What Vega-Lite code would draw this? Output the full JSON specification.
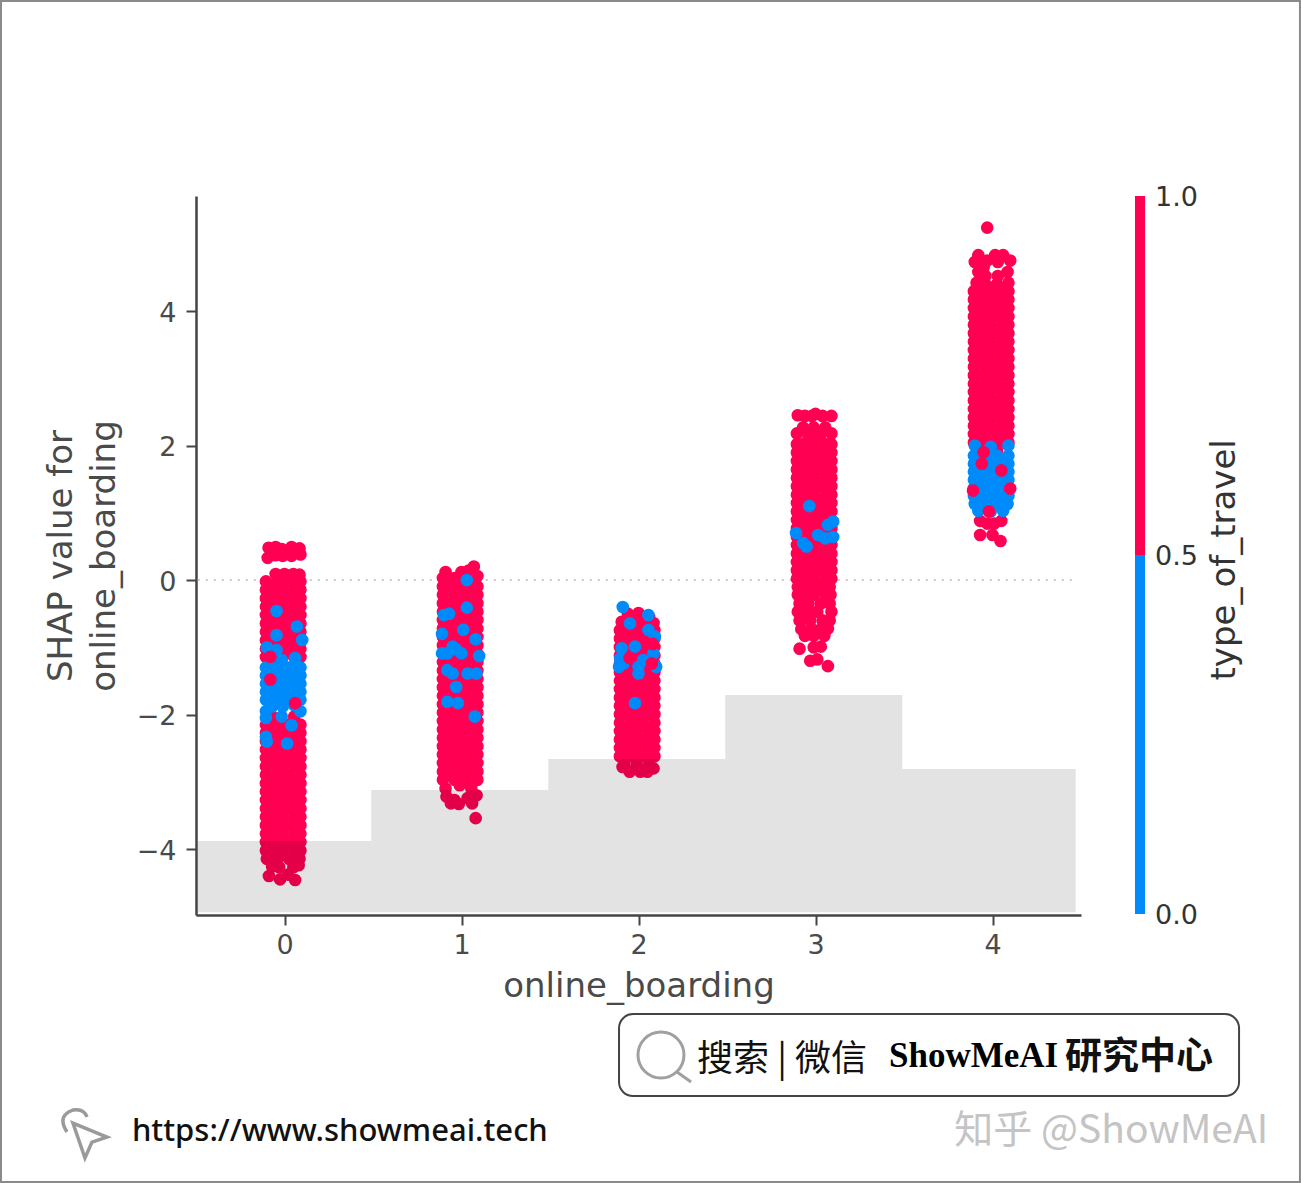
{"$schema":"https://vega.github.io/schema/vega-lite/v6.json","width":885,"height":719,"autosize":"none","padding":{"left":196,"top":196,"right":220,"bottom":268},"background":"white","config":{"view":{"stroke":null},"font":"DejaVu Sans"},
"data":{"values":[{}]},
"datasets":{"hist":[{"a":-0.49,"b":0.49,"top":-3.88},{"a":0.49,"b":1.49,"top":-3.12},{"a":1.49,"b":2.49,"top":-2.66},{"a":2.49,"b":3.49,"top":-1.71},{"a":3.49,"b":4.47,"top":-2.81}],
"edge":[
{"x":-0.105,"y":-0.145,"c":1},{"x":0.09,"y":-0.145,"c":1},{"x":-0.105,"y":-0.395,"c":1},{"x":0.09,"y":-0.395,"c":1},{"x":-0.105,"y":-0.645,"c":1},{"x":0.09,"y":-0.645,"c":1},{"x":-0.105,"y":-0.895,"c":1},{"x":0.09,"y":-0.895,"c":1},{"x":-0.105,"y":-1.145,"c":1},{"x":0.09,"y":-1.145,"c":1},{"x":-0.105,"y":-2.27,"c":1},{"x":0.09,"y":-2.27,"c":1},{"x":-0.105,"y":-2.52,"c":1},{"x":0.09,"y":-2.52,"c":1},{"x":-0.105,"y":-2.77,"c":1},{"x":0.09,"y":-2.77,"c":1},{"x":-0.105,"y":-3.02,"c":1},{"x":0.09,"y":-3.02,"c":1},{"x":-0.105,"y":-3.27,"c":1},{"x":0.09,"y":-3.27,"c":1},{"x":-0.105,"y":-3.52,"c":1},{"x":0.09,"y":-3.52,"c":1},{"x":-0.105,"y":-3.77,"c":1},{"x":0.09,"y":-3.77,"c":1},{"x":-0.105,"y":-4.02,"c":1},{"x":0.09,"y":-4.02,"c":1},
{"x":0.895,"y":-0.095,"c":1},{"x":1.09,"y":-0.095,"c":1},{"x":0.895,"y":-0.345,"c":1},{"x":1.09,"y":-0.345,"c":1},{"x":0.895,"y":-0.595,"c":1},{"x":1.09,"y":-0.595,"c":1},{"x":0.895,"y":-0.845,"c":1},{"x":1.09,"y":-0.845,"c":1},{"x":0.895,"y":-1.095,"c":1},{"x":1.09,"y":-1.095,"c":1},{"x":0.895,"y":-1.345,"c":1},{"x":1.09,"y":-1.345,"c":1},{"x":0.895,"y":-1.595,"c":1},{"x":1.09,"y":-1.595,"c":1},{"x":0.895,"y":-1.845,"c":1},{"x":1.09,"y":-1.845,"c":1},{"x":0.895,"y":-2.095,"c":1},{"x":1.09,"y":-2.095,"c":1},{"x":0.895,"y":-2.345,"c":1},{"x":1.09,"y":-2.345,"c":1},{"x":0.895,"y":-2.595,"c":1},{"x":1.09,"y":-2.595,"c":1},{"x":0.895,"y":-2.845,"c":1},{"x":1.09,"y":-2.845,"c":1},
{"x":1.895,"y":-0.745,"c":1},{"x":2.09,"y":-0.745,"c":1},{"x":1.895,"y":-0.995,"c":1},{"x":2.09,"y":-0.995,"c":1},{"x":1.895,"y":-1.245,"c":1},{"x":2.09,"y":-1.245,"c":1},{"x":1.895,"y":-1.495,"c":1},{"x":2.09,"y":-1.495,"c":1},{"x":1.895,"y":-1.745,"c":1},{"x":2.09,"y":-1.745,"c":1},{"x":1.895,"y":-1.995,"c":1},{"x":2.09,"y":-1.995,"c":1},{"x":1.895,"y":-2.245,"c":1},{"x":2.09,"y":-2.245,"c":1},{"x":1.895,"y":-2.495,"c":1},{"x":2.09,"y":-2.495,"c":1},
{"x":2.895,"y":2.02,"c":1},{"x":3.09,"y":2.02,"c":1},{"x":2.895,"y":1.77,"c":1},{"x":3.09,"y":1.77,"c":1},{"x":2.895,"y":1.52,"c":1},{"x":3.09,"y":1.52,"c":1},{"x":2.895,"y":1.27,"c":1},{"x":3.09,"y":1.27,"c":1},{"x":2.895,"y":1.02,"c":1},{"x":3.09,"y":1.02,"c":1},{"x":2.895,"y":0.77,"c":1},{"x":3.09,"y":0.77,"c":1},{"x":2.895,"y":0.52,"c":1},{"x":3.09,"y":0.52,"c":1},{"x":2.895,"y":0.27,"c":1},{"x":3.09,"y":0.27,"c":1},{"x":2.895,"y":0.02,"c":1},{"x":3.09,"y":0.02,"c":1},{"x":2.9,"y":-0.22,"c":1},{"x":3.085,"y":-0.22,"c":1},
{"x":3.895,"y":4.295,"c":1},{"x":4.09,"y":4.295,"c":1},{"x":3.895,"y":4.045,"c":1},{"x":4.09,"y":4.045,"c":1},{"x":3.895,"y":3.795,"c":1},{"x":4.09,"y":3.795,"c":1},{"x":3.895,"y":3.545,"c":1},{"x":4.09,"y":3.545,"c":1},{"x":3.895,"y":3.295,"c":1},{"x":4.09,"y":3.295,"c":1},{"x":3.895,"y":3.045,"c":1},{"x":4.09,"y":3.045,"c":1},{"x":3.895,"y":2.795,"c":1},{"x":4.09,"y":2.795,"c":1},{"x":3.895,"y":2.545,"c":1},{"x":4.09,"y":2.545,"c":1},{"x":3.895,"y":2.295,"c":1},{"x":4.09,"y":2.295,"c":1},{"x":3.895,"y":2.045,"c":1},{"x":4.09,"y":2.045,"c":1},{"x":3.96,"y":4.52,"c":1},{"x":4.03,"y":4.52,"c":1},{"x":3.95,"y":4.65,"c":1}
],
"points":[
{"x":-0.09,"y":0.48,"c":1},{"x":-0.05,"y":0.49,"c":1},{"x":-0.015,"y":0.46,"c":1},{"x":0.04,"y":0.49,"c":1},{"x":0.085,"y":0.47,"c":1},{"x":-0.095,"y":0.33,"c":1},{"x":-0.05,"y":0.37,"c":1},{"x":-0.01,"y":0.36,"c":1},{"x":0.04,"y":0.36,"c":1},{"x":0.09,"y":0.38,"c":1},{"x":-0.05,"y":0.09,"c":1},{"x":0,"y":0.09,"c":1},{"x":0.05,"y":0.09,"c":1},{"x":0.085,"y":0.08,"c":1},
{"x":-0.105,"y":-0.02,"c":1},{"x":-0.04,"y":-0.02,"c":1},{"x":0.025,"y":-0.02,"c":1},{"x":0.09,"y":-0.02,"c":1},{"x":-0.07,"y":-0.145,"c":1},{"x":-0.01,"y":-0.145,"c":1},{"x":0.055,"y":-0.145,"c":1},{"x":-0.105,"y":-0.27,"c":1},{"x":-0.04,"y":-0.27,"c":1},{"x":0.025,"y":-0.27,"c":1},{"x":0.09,"y":-0.27,"c":1},{"x":-0.07,"y":-0.395,"c":1},{"x":-0.01,"y":-0.395,"c":1},{"x":0.055,"y":-0.395,"c":1},{"x":-0.105,"y":-0.52,"c":1},{"x":-0.04,"y":-0.52,"c":1},{"x":0.025,"y":-0.52,"c":1},{"x":0.09,"y":-0.52,"c":1},{"x":-0.07,"y":-0.645,"c":1},{"x":-0.01,"y":-0.645,"c":1},{"x":0.055,"y":-0.645,"c":1},{"x":-0.105,"y":-0.77,"c":1},{"x":-0.04,"y":-0.77,"c":1},{"x":0.025,"y":-0.77,"c":1},{"x":0.09,"y":-0.77,"c":1},{"x":-0.07,"y":-0.895,"c":1},{"x":-0.01,"y":-0.895,"c":1},{"x":0.055,"y":-0.895,"c":1},{"x":-0.105,"y":-1.02,"c":1},{"x":-0.04,"y":-1.02,"c":1},{"x":0.025,"y":-1.02,"c":1},{"x":0.09,"y":-1.02,"c":1},{"x":-0.07,"y":-1.145,"c":1},{"x":-0.01,"y":-1.145,"c":1},{"x":0.055,"y":-1.145,"c":1},
{"x":-0.07,"y":-2.03,"c":1},{"x":0.055,"y":-2.03,"c":1},{"x":-0.105,"y":-2.15,"c":1},{"x":-0.04,"y":-2.15,"c":1},{"x":0.025,"y":-2.15,"c":1},{"x":0.09,"y":-2.15,"c":1},{"x":-0.07,"y":-2.27,"c":1},{"x":-0.01,"y":-2.27,"c":1},{"x":0.055,"y":-2.27,"c":1},{"x":-0.105,"y":-2.395,"c":1},{"x":-0.04,"y":-2.395,"c":1},{"x":0.025,"y":-2.395,"c":1},{"x":0.09,"y":-2.395,"c":1},{"x":-0.07,"y":-2.52,"c":1},{"x":-0.01,"y":-2.52,"c":1},{"x":0.055,"y":-2.52,"c":1},{"x":-0.105,"y":-2.645,"c":1},{"x":-0.04,"y":-2.645,"c":1},{"x":0.025,"y":-2.645,"c":1},{"x":0.09,"y":-2.645,"c":1},{"x":-0.07,"y":-2.77,"c":1},{"x":-0.01,"y":-2.77,"c":1},{"x":0.055,"y":-2.77,"c":1},{"x":-0.105,"y":-2.895,"c":1},{"x":-0.04,"y":-2.895,"c":1},{"x":0.025,"y":-2.895,"c":1},{"x":0.09,"y":-2.895,"c":1},{"x":-0.07,"y":-3.02,"c":1},{"x":-0.01,"y":-3.02,"c":1},{"x":0.055,"y":-3.02,"c":1},{"x":-0.105,"y":-3.145,"c":1},{"x":-0.04,"y":-3.145,"c":1},{"x":0.025,"y":-3.145,"c":1},{"x":0.09,"y":-3.145,"c":1},{"x":-0.07,"y":-3.27,"c":1},{"x":-0.01,"y":-3.27,"c":1},{"x":0.055,"y":-3.27,"c":1},{"x":-0.105,"y":-3.395,"c":1},{"x":-0.04,"y":-3.395,"c":1},{"x":0.025,"y":-3.395,"c":1},{"x":0.09,"y":-3.395,"c":1},{"x":-0.07,"y":-3.52,"c":1},{"x":-0.01,"y":-3.52,"c":1},{"x":0.055,"y":-3.52,"c":1},{"x":-0.105,"y":-3.645,"c":1},{"x":-0.04,"y":-3.645,"c":1},{"x":0.025,"y":-3.645,"c":1},{"x":0.09,"y":-3.645,"c":1},{"x":-0.07,"y":-3.77,"c":1},{"x":-0.01,"y":-3.77,"c":1},{"x":0.055,"y":-3.77,"c":1},{"x":-0.105,"y":-3.895,"c":1},{"x":-0.04,"y":-3.895,"c":1},{"x":0.025,"y":-3.895,"c":1},{"x":0.09,"y":-3.895,"c":1},{"x":-0.07,"y":-4.02,"c":1},{"x":-0.01,"y":-4.02,"c":1},{"x":0.055,"y":-4.02,"c":1},{"x":-0.1,"y":-4.145,"c":1},{"x":-0.04,"y":-4.145,"c":1},{"x":0.025,"y":-4.145,"c":1},{"x":0.085,"y":-4.145,"c":1},{"x":-0.07,"y":-4.26,"c":1},{"x":-0.03,"y":-4.27,"c":1},{"x":0.05,"y":-4.27,"c":1},{"x":0.08,"y":-4.24,"c":1},{"x":-0.088,"y":-4.4,"c":1},{"x":-0.025,"y":-4.45,"c":1},{"x":0.06,"y":-4.46,"c":1},{"x":0.02,"y":-4.38,"c":1},
{"x":1.07,"y":0.2,"c":1},{"x":0.91,"y":0.12,"c":1},{"x":1,"y":0.12,"c":1},{"x":1.04,"y":0.14,"c":1},{"x":0.895,"y":0.03,"c":1},{"x":0.96,"y":0.03,"c":1},{"x":1.025,"y":0.03,"c":1},{"x":1.09,"y":0.06,"c":1},{"x":0.93,"y":-0.095,"c":1},{"x":0.99,"y":-0.095,"c":1},{"x":1.055,"y":-0.095,"c":1},{"x":0.895,"y":-0.22,"c":1},{"x":0.96,"y":-0.22,"c":1},{"x":1.025,"y":-0.22,"c":1},{"x":1.09,"y":-0.22,"c":1},{"x":0.93,"y":-0.345,"c":1},{"x":0.99,"y":-0.345,"c":1},{"x":1.055,"y":-0.345,"c":1},{"x":0.895,"y":-0.47,"c":1},{"x":0.96,"y":-0.47,"c":1},{"x":1.025,"y":-0.47,"c":1},{"x":1.09,"y":-0.47,"c":1},{"x":0.93,"y":-0.595,"c":1},{"x":0.99,"y":-0.595,"c":1},{"x":1.055,"y":-0.595,"c":1},{"x":0.895,"y":-0.72,"c":1},{"x":0.96,"y":-0.72,"c":1},{"x":1.025,"y":-0.72,"c":1},{"x":1.09,"y":-0.72,"c":1},{"x":0.93,"y":-0.845,"c":1},{"x":0.99,"y":-0.845,"c":1},{"x":1.055,"y":-0.845,"c":1},{"x":0.895,"y":-0.97,"c":1},{"x":0.96,"y":-0.97,"c":1},{"x":1.025,"y":-0.97,"c":1},{"x":1.09,"y":-0.97,"c":1},{"x":0.93,"y":-1.095,"c":1},{"x":0.99,"y":-1.095,"c":1},{"x":1.055,"y":-1.095,"c":1},{"x":0.895,"y":-1.22,"c":1},{"x":0.96,"y":-1.22,"c":1},{"x":1.025,"y":-1.22,"c":1},{"x":1.09,"y":-1.22,"c":1},{"x":0.93,"y":-1.345,"c":1},{"x":0.99,"y":-1.345,"c":1},{"x":1.055,"y":-1.345,"c":1},{"x":0.895,"y":-1.47,"c":1},{"x":0.96,"y":-1.47,"c":1},{"x":1.025,"y":-1.47,"c":1},{"x":1.09,"y":-1.47,"c":1},{"x":0.93,"y":-1.595,"c":1},{"x":0.99,"y":-1.595,"c":1},{"x":1.055,"y":-1.595,"c":1},{"x":0.895,"y":-1.72,"c":1},{"x":0.96,"y":-1.72,"c":1},{"x":1.025,"y":-1.72,"c":1},{"x":1.09,"y":-1.72,"c":1},{"x":0.93,"y":-1.845,"c":1},{"x":0.99,"y":-1.845,"c":1},{"x":1.055,"y":-1.845,"c":1},{"x":0.895,"y":-1.97,"c":1},{"x":0.96,"y":-1.97,"c":1},{"x":1.025,"y":-1.97,"c":1},{"x":1.09,"y":-1.97,"c":1},{"x":0.93,"y":-2.095,"c":1},{"x":0.99,"y":-2.095,"c":1},{"x":1.055,"y":-2.095,"c":1},{"x":0.895,"y":-2.22,"c":1},{"x":0.96,"y":-2.22,"c":1},{"x":1.025,"y":-2.22,"c":1},{"x":1.09,"y":-2.22,"c":1},{"x":0.93,"y":-2.345,"c":1},{"x":0.99,"y":-2.345,"c":1},{"x":1.055,"y":-2.345,"c":1},{"x":0.895,"y":-2.47,"c":1},{"x":0.96,"y":-2.47,"c":1},{"x":1.025,"y":-2.47,"c":1},{"x":1.09,"y":-2.47,"c":1},{"x":0.93,"y":-2.595,"c":1},{"x":0.99,"y":-2.595,"c":1},{"x":1.055,"y":-2.595,"c":1},{"x":0.895,"y":-2.72,"c":1},{"x":0.96,"y":-2.72,"c":1},{"x":1.025,"y":-2.72,"c":1},{"x":1.09,"y":-2.72,"c":1},{"x":0.93,"y":-2.845,"c":1},{"x":0.99,"y":-2.845,"c":1},{"x":1.055,"y":-2.845,"c":1},{"x":0.895,"y":-2.97,"c":1},{"x":0.96,"y":-2.97,"c":1},{"x":1.025,"y":-2.97,"c":1},{"x":1.09,"y":-2.97,"c":1},{"x":0.91,"y":-3.1,"c":1},{"x":0.99,"y":-3.05,"c":1},{"x":1.055,"y":-3.095,"c":1},{"x":0.915,"y":-3.22,"c":1},{"x":0.96,"y":-3.27,"c":1},{"x":1.035,"y":-3.24,"c":1},{"x":1.085,"y":-3.2,"c":1},{"x":0.94,"y":-3.32,"c":1},{"x":0.985,"y":-3.33,"c":1},{"x":1.06,"y":-3.32,"c":1},{"x":1.08,"y":-3.54,"c":1},
{"x":1.94,"y":-0.5,"c":1},{"x":2,"y":-0.49,"c":1},{"x":2.06,"y":-0.55,"c":1},{"x":1.905,"y":-0.62,"c":1},{"x":1.96,"y":-0.62,"c":1},{"x":2.025,"y":-0.62,"c":1},{"x":2.085,"y":-0.64,"c":1},{"x":1.93,"y":-0.745,"c":1},{"x":1.99,"y":-0.745,"c":1},{"x":2.055,"y":-0.745,"c":1},{"x":1.895,"y":-0.87,"c":1},{"x":1.96,"y":-0.87,"c":1},{"x":2.025,"y":-0.87,"c":1},{"x":2.09,"y":-0.87,"c":1},{"x":1.93,"y":-0.995,"c":1},{"x":1.99,"y":-0.995,"c":1},{"x":2.055,"y":-0.995,"c":1},{"x":1.895,"y":-1.12,"c":1},{"x":1.96,"y":-1.12,"c":1},{"x":2.025,"y":-1.12,"c":1},{"x":2.09,"y":-1.12,"c":1},{"x":1.93,"y":-1.245,"c":1},{"x":1.99,"y":-1.245,"c":1},{"x":2.055,"y":-1.245,"c":1},{"x":1.895,"y":-1.37,"c":1},{"x":1.96,"y":-1.37,"c":1},{"x":2.025,"y":-1.37,"c":1},{"x":2.09,"y":-1.37,"c":1},{"x":1.93,"y":-1.495,"c":1},{"x":1.99,"y":-1.495,"c":1},{"x":2.055,"y":-1.495,"c":1},{"x":1.895,"y":-1.62,"c":1},{"x":1.96,"y":-1.62,"c":1},{"x":2.025,"y":-1.62,"c":1},{"x":2.09,"y":-1.62,"c":1},{"x":1.93,"y":-1.745,"c":1},{"x":1.99,"y":-1.745,"c":1},{"x":2.055,"y":-1.745,"c":1},{"x":1.895,"y":-1.87,"c":1},{"x":1.96,"y":-1.87,"c":1},{"x":2.025,"y":-1.87,"c":1},{"x":2.09,"y":-1.87,"c":1},{"x":1.93,"y":-1.995,"c":1},{"x":1.99,"y":-1.995,"c":1},{"x":2.055,"y":-1.995,"c":1},{"x":1.895,"y":-2.12,"c":1},{"x":1.96,"y":-2.12,"c":1},{"x":2.025,"y":-2.12,"c":1},{"x":2.09,"y":-2.12,"c":1},{"x":1.93,"y":-2.245,"c":1},{"x":1.99,"y":-2.245,"c":1},{"x":2.055,"y":-2.245,"c":1},{"x":1.895,"y":-2.37,"c":1},{"x":1.96,"y":-2.37,"c":1},{"x":2.025,"y":-2.37,"c":1},{"x":2.09,"y":-2.37,"c":1},{"x":1.93,"y":-2.495,"c":1},{"x":1.99,"y":-2.495,"c":1},{"x":2.055,"y":-2.495,"c":1},{"x":1.895,"y":-2.62,"c":1},{"x":1.96,"y":-2.62,"c":1},{"x":2.025,"y":-2.62,"c":1},{"x":2.09,"y":-2.62,"c":1},{"x":1.92,"y":-2.745,"c":1},{"x":1.99,"y":-2.745,"c":1},{"x":2.06,"y":-2.745,"c":1},{"x":1.91,"y":-2.78,"c":1},{"x":1.95,"y":-2.85,"c":1},{"x":2.01,"y":-2.85,"c":1},{"x":2.05,"y":-2.85,"c":1},{"x":2.085,"y":-2.8,"c":1},
{"x":2.9,"y":2.45,"c":1},{"x":2.94,"y":2.44,"c":1},{"x":2.98,"y":2.44,"c":1},{"x":3.0,"y":2.47,"c":1},{"x":3.04,"y":2.44,"c":1},{"x":3.09,"y":2.44,"c":1},{"x":2.93,"y":2.27,"c":1},{"x":2.99,"y":2.27,"c":1},{"x":3.055,"y":2.27,"c":1},{"x":2.895,"y":2.18,"c":1},{"x":2.96,"y":2.145,"c":1},{"x":3.025,"y":2.145,"c":1},{"x":3.09,"y":2.18,"c":1},{"x":2.93,"y":2.02,"c":1},{"x":2.99,"y":2.02,"c":1},{"x":3.055,"y":2.02,"c":1},{"x":2.895,"y":1.895,"c":1},{"x":2.96,"y":1.895,"c":1},{"x":3.025,"y":1.895,"c":1},{"x":3.09,"y":1.895,"c":1},{"x":2.93,"y":1.77,"c":1},{"x":2.99,"y":1.77,"c":1},{"x":3.055,"y":1.77,"c":1},{"x":2.895,"y":1.645,"c":1},{"x":2.96,"y":1.645,"c":1},{"x":3.025,"y":1.645,"c":1},{"x":3.09,"y":1.645,"c":1},{"x":2.93,"y":1.52,"c":1},{"x":2.99,"y":1.52,"c":1},{"x":3.055,"y":1.52,"c":1},{"x":2.895,"y":1.395,"c":1},{"x":2.96,"y":1.395,"c":1},{"x":3.025,"y":1.395,"c":1},{"x":3.09,"y":1.395,"c":1},{"x":2.93,"y":1.27,"c":1},{"x":2.99,"y":1.27,"c":1},{"x":3.055,"y":1.27,"c":1},{"x":2.895,"y":1.145,"c":1},{"x":2.96,"y":1.145,"c":1},{"x":3.025,"y":1.145,"c":1},{"x":3.09,"y":1.145,"c":1},{"x":2.93,"y":1.02,"c":1},{"x":2.99,"y":1.02,"c":1},{"x":3.055,"y":1.02,"c":1},{"x":2.895,"y":0.895,"c":1},{"x":2.96,"y":0.895,"c":1},{"x":3.025,"y":0.895,"c":1},{"x":3.09,"y":0.895,"c":1},{"x":2.93,"y":0.77,"c":1},{"x":2.99,"y":0.77,"c":1},{"x":3.055,"y":0.77,"c":1},{"x":2.895,"y":0.645,"c":1},{"x":2.96,"y":0.645,"c":1},{"x":3.025,"y":0.645,"c":1},{"x":3.09,"y":0.645,"c":1},{"x":2.93,"y":0.52,"c":1},{"x":2.99,"y":0.52,"c":1},{"x":3.055,"y":0.52,"c":1},{"x":2.895,"y":0.395,"c":1},{"x":2.96,"y":0.395,"c":1},{"x":3.025,"y":0.395,"c":1},{"x":3.09,"y":0.395,"c":1},{"x":2.93,"y":0.27,"c":1},{"x":2.99,"y":0.27,"c":1},{"x":3.055,"y":0.27,"c":1},{"x":2.895,"y":0.145,"c":1},{"x":2.96,"y":0.145,"c":1},{"x":3.025,"y":0.145,"c":1},{"x":3.09,"y":0.145,"c":1},{"x":2.93,"y":0.02,"c":1},{"x":2.99,"y":0.02,"c":1},{"x":3.055,"y":0.02,"c":1},{"x":2.9,"y":-0.105,"c":1},{"x":2.96,"y":-0.105,"c":1},{"x":3.025,"y":-0.105,"c":1},{"x":3.08,"y":-0.105,"c":1},{"x":2.93,"y":-0.22,"c":1},{"x":2.99,"y":-0.22,"c":1},{"x":3.055,"y":-0.22,"c":1},{"x":2.91,"y":-0.35,"c":1},{"x":2.96,"y":-0.35,"c":1},{"x":3.03,"y":-0.35,"c":1},{"x":3.08,"y":-0.35,"c":1},{"x":2.9,"y":-0.47,"c":1},{"x":2.95,"y":-0.48,"c":1},{"x":3.01,"y":-0.47,"c":1},{"x":3.09,"y":-0.47,"c":1},{"x":2.91,"y":-0.6,"c":1},{"x":2.97,"y":-0.6,"c":1},{"x":3.04,"y":-0.6,"c":1},{"x":3.08,"y":-0.6,"c":1},{"x":2.92,"y":-0.73,"c":1},{"x":2.98,"y":-0.73,"c":1},{"x":3.03,"y":-0.73,"c":1},{"x":3.07,"y":-0.72,"c":1},{"x":2.94,"y":-0.83,"c":1},{"x":2.99,"y":-0.83,"c":1},{"x":3.05,"y":-0.83,"c":1},{"x":2.91,"y":-1.02,"c":1},{"x":2.99,"y":-1,"c":1},{"x":3.03,"y":-0.99,"c":1},{"x":2.97,"y":-1.2,"c":1},{"x":3.01,"y":-1.18,"c":1},{"x":3.07,"y":-1.28,"c":1},
{"x":3.97,"y":5.24,"c":1},{"x":3.92,"y":4.83,"c":1},{"x":3.9,"y":4.73,"c":1},{"x":3.97,"y":4.75,"c":1},{"x":4.015,"y":4.83,"c":1},{"x":4.06,"y":4.83,"c":1},{"x":4.1,"y":4.75,"c":1},{"x":4.03,"y":4.73,"c":1},{"x":3.92,"y":4.58,"c":1},{"x":4.085,"y":4.58,"c":1},{"x":3.91,"y":4.42,"c":1},{"x":3.96,"y":4.4,"c":1},{"x":4.025,"y":4.4,"c":1},{"x":4.09,"y":4.42,"c":1},{"x":3.93,"y":4.295,"c":1},{"x":3.99,"y":4.295,"c":1},{"x":4.055,"y":4.295,"c":1},{"x":3.895,"y":4.17,"c":1},{"x":3.96,"y":4.17,"c":1},{"x":4.025,"y":4.17,"c":1},{"x":4.09,"y":4.17,"c":1},{"x":3.93,"y":4.045,"c":1},{"x":3.99,"y":4.045,"c":1},{"x":4.055,"y":4.045,"c":1},{"x":3.895,"y":3.92,"c":1},{"x":3.96,"y":3.92,"c":1},{"x":4.025,"y":3.92,"c":1},{"x":4.09,"y":3.92,"c":1},{"x":3.93,"y":3.795,"c":1},{"x":3.99,"y":3.795,"c":1},{"x":4.055,"y":3.795,"c":1},{"x":3.895,"y":3.67,"c":1},{"x":3.96,"y":3.67,"c":1},{"x":4.025,"y":3.67,"c":1},{"x":4.09,"y":3.67,"c":1},{"x":3.93,"y":3.545,"c":1},{"x":3.99,"y":3.545,"c":1},{"x":4.055,"y":3.545,"c":1},{"x":3.895,"y":3.42,"c":1},{"x":3.96,"y":3.42,"c":1},{"x":4.025,"y":3.42,"c":1},{"x":4.09,"y":3.42,"c":1},{"x":3.93,"y":3.295,"c":1},{"x":3.99,"y":3.295,"c":1},{"x":4.055,"y":3.295,"c":1},{"x":3.895,"y":3.17,"c":1},{"x":3.96,"y":3.17,"c":1},{"x":4.025,"y":3.17,"c":1},{"x":4.09,"y":3.17,"c":1},{"x":3.93,"y":3.045,"c":1},{"x":3.99,"y":3.045,"c":1},{"x":4.055,"y":3.045,"c":1},{"x":3.895,"y":2.92,"c":1},{"x":3.96,"y":2.92,"c":1},{"x":4.025,"y":2.92,"c":1},{"x":4.09,"y":2.92,"c":1},{"x":3.93,"y":2.795,"c":1},{"x":3.99,"y":2.795,"c":1},{"x":4.055,"y":2.795,"c":1},{"x":3.895,"y":2.67,"c":1},{"x":3.96,"y":2.67,"c":1},{"x":4.025,"y":2.67,"c":1},{"x":4.09,"y":2.67,"c":1},{"x":3.93,"y":2.545,"c":1},{"x":3.99,"y":2.545,"c":1},{"x":4.055,"y":2.545,"c":1},{"x":3.895,"y":2.42,"c":1},{"x":3.96,"y":2.42,"c":1},{"x":4.025,"y":2.42,"c":1},{"x":4.09,"y":2.42,"c":1},{"x":3.93,"y":2.295,"c":1},{"x":3.99,"y":2.295,"c":1},{"x":4.055,"y":2.295,"c":1},{"x":3.895,"y":2.17,"c":1},{"x":3.96,"y":2.17,"c":1},{"x":4.025,"y":2.17,"c":1},{"x":4.09,"y":2.17,"c":1},{"x":3.93,"y":2.045,"c":1},{"x":3.99,"y":2.045,"c":1},{"x":4.055,"y":2.045,"c":1},{"x":3.92,"y":1.93,"c":1},{"x":3.96,"y":1.92,"c":1},{"x":4.025,"y":1.92,"c":1},{"x":3.93,"y":0.88,"c":1},{"x":3.97,"y":0.84,"c":1},{"x":4.01,"y":0.84,"c":1},{"x":4.05,"y":0.88,"c":1},{"x":3.93,"y":0.67,"c":1},{"x":4,"y":0.67,"c":1},{"x":4.045,"y":0.58,"c":1},
{"x":-0.105,"y":-1.3,"c":0},{"x":-0.04,"y":-1.3,"c":0},{"x":0.025,"y":-1.3,"c":0},{"x":0.09,"y":-1.3,"c":0},{"x":-0.07,"y":-1.42,"c":0},{"x":-0.01,"y":-1.42,"c":0},{"x":0.055,"y":-1.42,"c":0},{"x":-0.105,"y":-1.54,"c":0},{"x":-0.04,"y":-1.54,"c":0},{"x":0.025,"y":-1.54,"c":0},{"x":0.09,"y":-1.54,"c":0},{"x":-0.07,"y":-1.66,"c":0},{"x":-0.01,"y":-1.66,"c":0},{"x":0.055,"y":-1.66,"c":0},{"x":-0.105,"y":-1.78,"c":0},{"x":-0.04,"y":-1.78,"c":0},{"x":0.025,"y":-1.78,"c":0},{"x":0.09,"y":-1.78,"c":0},{"x":-0.07,"y":-1.88,"c":0},{"x":-0.01,"y":-1.88,"c":0},{"x":0.055,"y":-1.86,"c":0},{"x":0.09,"y":-1.95,"c":0},{"x":-0.105,"y":-1.95,"c":0},{"x":-0.105,"y":-2.05,"c":0},{"x":-0.105,"y":-1.42,"c":0},{"x":0.09,"y":-1.42,"c":0},{"x":-0.105,"y":-1.66,"c":0},{"x":0.09,"y":-1.66,"c":0},{"x":-0.07,"y":-1.3,"c":0},{"x":-0.01,"y":-1.3,"c":0},{"x":0.055,"y":-1.3,"c":0},{"x":-0.04,"y":-1.42,"c":0},{"x":0.025,"y":-1.42,"c":0},{"x":-0.04,"y":-1.66,"c":0},{"x":0.025,"y":-1.66,"c":0},{"x":-0.07,"y":-1.54,"c":0},{"x":-0.01,"y":-1.54,"c":0},{"x":0.055,"y":-1.54,"c":0},{"x":-0.07,"y":-1.78,"c":0},{"x":-0.01,"y":-1.78,"c":0},{"x":0.055,"y":-1.78,"c":0},{"x":-0.045,"y":-0.46,"c":0},{"x":-0.045,"y":-0.82,"c":0},{"x":0.07,"y":-0.69,"c":0},{"x":0.1,"y":-0.89,"c":0},{"x":-0.016,"y":-1.19,"c":0},{"x":0.06,"y":-1.16,"c":0},{"x":-0.1,"y":-1,"c":0},{"x":-0.045,"y":-1.04,"c":0},{"x":-0.016,"y":-2.03,"c":0},{"x":0.04,"y":-2.16,"c":0},{"x":-0.105,"y":-2.33,"c":0},{"x":-0.1,"y":-2.4,"c":0},{"x":0.015,"y":-2.43,"c":0},
{"x":1.03,"y":-0.41,"c":0},{"x":0.93,"y":-0.5,"c":0},{"x":0.9,"y":-0.52,"c":0},{"x":1.03,"y":0,"c":0},{"x":1.01,"y":-0.74,"c":0},{"x":1.08,"y":-0.88,"c":0},{"x":0.95,"y":-0.99,"c":0},{"x":0.92,"y":-1.09,"c":0},{"x":1,"y":-1.09,"c":0},{"x":0.89,"y":-1.09,"c":0},{"x":1.1,"y":-1.13,"c":0},{"x":0.92,"y":-1.34,"c":0},{"x":0.95,"y":-1.39,"c":0},{"x":1.035,"y":-1.39,"c":0},{"x":1.085,"y":-1.39,"c":0},{"x":0.97,"y":-1.59,"c":0},{"x":0.92,"y":-1.81,"c":0},{"x":0.98,"y":-1.83,"c":0},{"x":1.075,"y":-2.03,"c":0},{"x":0.89,"y":-0.8,"c":0},{"x":0.97,"y":-1.03,"c":0},
{"x":1.911,"y":-0.4,"c":0},{"x":1.952,"y":-0.644,"c":0},{"x":2.056,"y":-0.52,"c":0},{"x":2.056,"y":-0.744,"c":0},{"x":2.093,"y":-0.84,"c":0},{"x":1.905,"y":-1.015,"c":0},{"x":1.98,"y":-0.99,"c":0},{"x":1.896,"y":-1.165,"c":0},{"x":2.084,"y":-1.09,"c":0},{"x":2,"y":-1.29,"c":0},{"x":2.1,"y":-1.29,"c":0},{"x":1.89,"y":-1.29,"c":0},{"x":2,"y":-1.39,"c":0},{"x":2.027,"y":-1.19,"c":0},{"x":1.915,"y":-1.24,"c":0},{"x":1.98,"y":-1.83,"c":0},
{"x":2.965,"y":1.1,"c":0},{"x":3.1,"y":0.87,"c":0},{"x":3.07,"y":0.82,"c":0},{"x":3.015,"y":0.67,"c":0},{"x":3.055,"y":0.62,"c":0},{"x":2.93,"y":0.55,"c":0},{"x":2.95,"y":0.5,"c":0},{"x":2.89,"y":0.7,"c":0},{"x":3.1,"y":0.64,"c":0},
{"x":3.895,"y":1.85,"c":0},{"x":3.96,"y":1.85,"c":0},{"x":4.025,"y":1.85,"c":0},{"x":4.09,"y":1.85,"c":0},{"x":3.93,"y":1.73,"c":0},{"x":3.99,"y":1.73,"c":0},{"x":4.055,"y":1.73,"c":0},{"x":3.895,"y":1.61,"c":0},{"x":3.96,"y":1.61,"c":0},{"x":4.025,"y":1.61,"c":0},{"x":4.09,"y":1.61,"c":0},{"x":3.93,"y":1.49,"c":0},{"x":3.99,"y":1.49,"c":0},{"x":4.055,"y":1.49,"c":0},{"x":3.895,"y":1.37,"c":0},{"x":3.96,"y":1.37,"c":0},{"x":4.025,"y":1.37,"c":0},{"x":4.09,"y":1.37,"c":0},{"x":3.93,"y":1.25,"c":0},{"x":3.99,"y":1.25,"c":0},{"x":4.055,"y":1.25,"c":0},{"x":3.9,"y":1.13,"c":0},{"x":3.96,"y":1.13,"c":0},{"x":4.025,"y":1.13,"c":0},{"x":4.085,"y":1.13,"c":0},{"x":3.92,"y":1.03,"c":0},{"x":3.99,"y":1.02,"c":0},{"x":4.06,"y":1.03,"c":0},{"x":3.9,"y":2,"c":0},{"x":3.99,"y":1.98,"c":0},{"x":4.09,"y":2,"c":0},{"x":3.895,"y":1.73,"c":0},{"x":4.09,"y":1.73,"c":0},{"x":3.895,"y":1.49,"c":0},{"x":4.09,"y":1.49,"c":0},{"x":3.895,"y":1.25,"c":0},{"x":4.09,"y":1.25,"c":0},{"x":3.93,"y":1.61,"c":0},{"x":3.99,"y":1.61,"c":0},{"x":4.055,"y":1.61,"c":0},{"x":3.96,"y":1.49,"c":0},{"x":4.025,"y":1.49,"c":0},{"x":3.93,"y":1.37,"c":0},{"x":3.99,"y":1.37,"c":0},{"x":4.055,"y":1.37,"c":0},{"x":3.96,"y":1.25,"c":0},{"x":4.025,"y":1.25,"c":0},
{"x":-0.08,"y":-1.14,"c":1},{"x":-0.08,"y":-1.48,"c":1},{"x":0.06,"y":-1.83,"c":1},{"x":1.95,"y":-1.16,"c":1},{"x":2.075,"y":-1.24,"c":1},{"x":2.08,"y":-0.95,"c":1},{"x":3.94,"y":1.73,"c":1},{"x":4.05,"y":1.63,"c":1},{"x":3.89,"y":1.33,"c":1},{"x":4.1,"y":1.36,"c":1},{"x":3.95,"y":1.9,"c":1},{"x":3.98,"y":1.02,"c":1}
]},
"layer":[
{"mark":{"type":"rule","stroke":"#c8c8c8","strokeWidth":2,"strokeDash":[2,6]},"encoding":{"x":{"datum":-0.49,"type":"quantitative","scale":{"domain":[-0.5,4.5],"nice":false,"zero":false},"axis":{"values":[0,1,2,3,4],"format":"d","title":"online_boarding","grid":false,"domainColor":"#444","domainWidth":2.5,"tickColor":"#444","tickWidth":2,"tickSize":10,"labelColor":"#4a4a4a","labelFontSize":27,"labelPadding":7,"titleColor":"#4a4a4a","titleFontSize":34,"titleFontWeight":"normal","titlePadding":11}},"x2":{"datum":4.47},"y":{"datum":0,"type":"quantitative","scale":{"domain":[-4.98,5.71],"nice":false,"zero":false},"axis":{"values":[-4,-2,0,2,4],"format":"d","title":["SHAP value for","online_boarding"],"grid":false,"domainColor":"#444","domainWidth":2.5,"tickColor":"#444","tickWidth":2,"tickSize":10,"labelColor":"#4a4a4a","labelFontSize":27,"labelPadding":10,"labelOffset":2,"titleColor":"#4a4a4a","titleFontSize":34,"titleFontWeight":"normal","titleLineHeight":43,"titlePadding":15}}}},
{"data":{"name":"edge"},"mark":{"type":"circle","size":160,"opacity":1},"encoding":{"x":{"field":"x","type":"quantitative"},"y":{"field":"y","type":"quantitative"},"color":{"field":"c","type":"nominal","scale":{"domain":[0,1],"range":["#008bfb","#ff0052"]},"legend":null}}},
{"data":{"name":"points"},"mark":{"type":"circle","size":160,"opacity":1},"encoding":{"x":{"field":"x","type":"quantitative"},"y":{"field":"y","type":"quantitative"},"color":{"field":"c","type":"nominal","scale":{"domain":[0,1],"range":["#008bfb","#ff0052"]},"legend":null}}},
{"data":{"name":"hist"},"mark":{"type":"rect","fill":"#000","opacity":0.11},"encoding":{"x":{"field":"a","type":"quantitative"},"x2":{"field":"b"},"y":{"field":"top","type":"quantitative"},"y2":{"datum":-4.94}}},
{"mark":{"type":"rect","fill":"#ff0052"},"encoding":{"x":{"datum":4.805},"x2":{"datum":4.862},"y":{"datum":5.71},"y2":{"datum":0.372}}},
{"mark":{"type":"rect","fill":"#008bfb"},"encoding":{"x":{"datum":4.805},"x2":{"datum":4.862},"y":{"datum":0.372},"y2":{"datum":-4.966}}},
{"mark":{"type":"text","text":"1.0","align":"left","baseline":"middle","fontSize":27,"color":"#333"},"encoding":{"x":{"datum":4.918},"y":{"datum":5.68}}},
{"mark":{"type":"text","text":"0.5","align":"left","baseline":"middle","fontSize":27,"color":"#333"},"encoding":{"x":{"datum":4.918},"y":{"datum":0.342}}},
{"mark":{"type":"text","text":"0.0","align":"left","baseline":"middle","fontSize":27,"color":"#333"},"encoding":{"x":{"datum":4.918},"y":{"datum":-5}}},
{"mark":{"type":"text","text":"type_of_travel","angle":270,"align":"center","baseline":"middle","fontSize":34,"color":"#333"},"encoding":{"x":{"datum":5.313},"y":{"datum":0.3}}},
{"mark":{"type":"rect","filled":false,"fill":null,"stroke":"#8a8a8a","strokeWidth":2},"encoding":{"x":{"datum":-1.6017},"x2":{"datum":5.737},"y":{"datum":8.609},"y2":{"datum":-8.951}}},
{"mark":{"type":"rect","fill":"white","stroke":"#444","strokeWidth":2,"cornerRadius":14},"encoding":{"x":{"datum":1.89},"x2":{"datum":5.393},"y":{"datum":-6.453},"y2":{"datum":-7.672}}},
{"mark":{"type":"point","filled":false,"shape":"circle","size":2116,"stroke":"#a0a0a0","strokeWidth":3,"opacity":1},"encoding":{"x":{"datum":2.127},"y":{"datum":-7.062}}},
{"mark":{"type":"rule","stroke":"#a0a0a0","strokeWidth":3},"encoding":{"x":{"datum":2.218},"x2":{"datum":2.297},"y":{"datum":-7.315},"y2":{"datum":-7.464}}},
{"mark":{"type":"text","text":"搜索 | 微信","align":"left","baseline":"middle","font":"Noto Sans CJK SC","fontSize":36,"color":"#111"},"encoding":{"x":{"datum":2.331},"y":{"datum":-7.13}}},
{"mark":{"type":"text","text":"ShowMeAI","align":"left","baseline":"middle","font":"Liberation Serif","fontWeight":"bold","fontSize":35,"color":"#000"},"encoding":{"x":{"datum":3.415},"y":{"datum":-7.08}}},
{"mark":{"type":"text","text":"研究中心","align":"left","baseline":"middle","font":"Noto Sans CJK SC","fontWeight":"bold","fontSize":37,"color":"#111"},"encoding":{"x":{"datum":4.41},"y":{"datum":-7.1}}},
{"mark":{"type":"point","filled":false,"size":2500,"stroke":"#9a9a9a","strokeWidth":3.5,"opacity":1,"shape":"M -0.44 -0.4 L 0.92 0.16 L 0.32 0.36 L 0.04 1 Z M -0.68 -0.04 Q -1.1 -0.7 -0.44 -0.92 Q 0 -1 0.12 -0.64"},"encoding":{"x":{"datum":-1.133},"y":{"datum":-8.222}}},
{"mark":{"type":"text","text":"https://www.showmeai.tech","align":"left","baseline":"middle","font":"Noto Sans","fontWeight":500,"fontSize":31,"color":"#111"},"encoding":{"x":{"datum":-0.862},"y":{"datum":-8.2}}},
{"mark":{"type":"text","text":"知乎 @ShowMeAI","align":"right","baseline":"middle","font":"Noto Sans CJK SC","fontSize":39,"color":"#c4c4c4"},"encoding":{"x":{"datum":5.557},"y":{"datum":-8.19}}}
]}
